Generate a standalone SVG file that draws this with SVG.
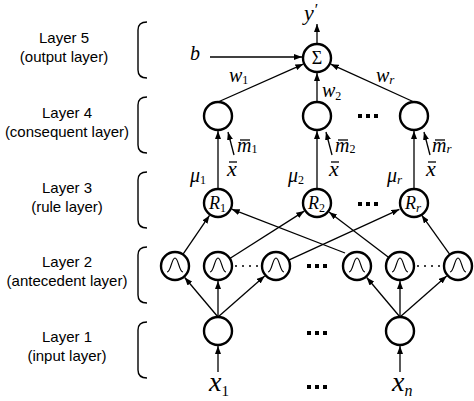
<svg xmlns="http://www.w3.org/2000/svg" width="474" height="401" viewBox="0 0 474 401">
<style>
.lbl{font-family:"Liberation Sans",Arial,sans-serif;font-size:15px;fill:#000;text-anchor:middle}
.m{font-family:"Liberation Serif","Times New Roman",serif;font-style:italic;fill:#000}
.s{font-style:normal}
.node{fill:#fff;stroke:#000;stroke-width:2.4}
.brace{fill:none;stroke:#000;stroke-width:1.4}
.c{stroke:#000;stroke-width:1.3;fill:none}
.g{fill:none;stroke:#000;stroke-width:1.2}
.dot{fill:#000}
</style>
<defs>
<marker id="ah" markerWidth="8" markerHeight="6" refX="8" refY="3" orient="auto" markerUnits="userSpaceOnUse">
<path d="M0,0 L8,3 L0,6 z" fill="#000"/>
</marker>
<path id="bell" d="M-8,6 C-4,6 -3.5,-8 0,-8 C3.5,-8 4,6 8,6"/>
</defs>

<g id="layer-labels">
<text class="lbl" x="64" y="43">Layer 5</text>
<text class="lbl" x="64" y="62">(output layer)</text>
<text class="lbl" x="67" y="118">Layer 4</text>
<text class="lbl" x="67" y="137">(consequent layer)</text>
<text class="lbl" x="67" y="193">Layer 3</text>
<text class="lbl" x="67" y="212">(rule layer)</text>
<text class="lbl" x="67" y="267">Layer 2</text>
<text class="lbl" x="67" y="286">(antecedent layer)</text>
<text class="lbl" x="67" y="342">Layer 1</text>
<text class="lbl" x="67" y="361">(input layer)</text>
</g>

<g id="braces">
<path class="brace" d="M147,22 Q138,22 138,30 L138,70 Q138,78 147,78"/>
<path class="brace" d="M147,97 Q138,97 138,105 L138,145 Q138,153 147,153"/>
<path class="brace" d="M147,172 Q138,172 138,180 L138,220 Q138,228 147,228"/>
<path class="brace" d="M147,247 Q138,247 138,255 L138,295 Q138,303 147,303"/>
<path class="brace" d="M147,322 Q138,322 138,330 L138,370 Q138,378 147,378"/>
</g>

<g id="connectors">
<line class="c" x1="218" y1="372" x2="218" y2="346" marker-end="url(#ah)"/>
<line class="c" x1="400" y1="372" x2="400" y2="346" marker-end="url(#ah)"/>
<line class="c" x1="218" y1="317" x2="184.7" y2="277.5" marker-end="url(#ah)"/>
<line class="c" x1="218" y1="317" x2="218" y2="281" marker-end="url(#ah)"/>
<line class="c" x1="218" y1="317" x2="264.7" y2="275.9" marker-end="url(#ah)"/>
<line class="c" x1="400" y1="317" x2="366.7" y2="277.5" marker-end="url(#ah)"/>
<line class="c" x1="400" y1="317" x2="400" y2="281" marker-end="url(#ah)"/>
<line class="c" x1="400" y1="317" x2="446.7" y2="275.9" marker-end="url(#ah)"/>
<line class="c" x1="182.9" y1="254.4" x2="209.5" y2="215.4" marker-end="url(#ah)"/>
<line class="c" x1="345" y1="253" x2="231.7" y2="209.2" marker-end="url(#ah)"/>
<line class="c" x1="229.8" y1="258.5" x2="304.3" y2="211.1" marker-end="url(#ah)"/>
<line class="c" x1="388.8" y1="257.5" x2="329" y2="212.1" marker-end="url(#ah)"/>
<line class="c" x1="288.7" y1="260.1" x2="399.4" y2="209.3" marker-end="url(#ah)"/>
<line class="c" x1="449.9" y1="254.6" x2="421.7" y2="215.2" marker-end="url(#ah)"/>
<line class="c" x1="218" y1="189" x2="218" y2="131" marker-end="url(#ah)"/>
<line class="c" x1="317" y1="189" x2="317" y2="131" marker-end="url(#ah)"/>
<line class="c" x1="414" y1="189" x2="414" y2="131" marker-end="url(#ah)"/>
<line class="c" x1="234" y1="155" x2="228" y2="132" marker-end="url(#ah)"/>
<line class="c" x1="332" y1="155" x2="326" y2="132" marker-end="url(#ah)"/>
<line class="c" x1="430" y1="155" x2="424" y2="132" marker-end="url(#ah)"/>
<line class="c" x1="218" y1="102" x2="303.3" y2="64.1" marker-end="url(#ah)"/>
<line class="c" x1="317" y1="102" x2="317" y2="73" marker-end="url(#ah)"/>
<line class="c" x1="414" y1="102" x2="330.7" y2="64.2" marker-end="url(#ah)"/>
<line class="c" x1="210" y1="57" x2="302" y2="57" marker-end="url(#ah)"/>
<line class="c" x1="317" y1="44" x2="317" y2="24" marker-end="url(#ah)"/>
<line class="c" x1="235" y1="266" x2="260" y2="266" stroke-width="2" stroke-dasharray="2,5"/>
<line class="c" x1="417" y1="266" x2="442" y2="266" stroke-width="2" stroke-dasharray="2,5"/>
</g>

<g id="sigma">
<circle class="node" cx="317" cy="58" r="14"/>
<text class="m s" x="317" y="64" font-size="18" text-anchor="middle">Σ</text>
</g>

<g id="consequent-1"><circle class="node" cx="218" cy="116" r="14"/></g>
<g id="consequent-2"><circle class="node" cx="317" cy="116" r="14"/></g>
<g id="consequent-r"><circle class="node" cx="414" cy="116" r="14"/></g>

<g id="rule-1"><circle class="node" cx="218" cy="203" r="14"/>
<text class="m" x="209" y="209" font-size="18">R<tspan class="s" font-size="12" dy="3">1</tspan></text></g>
<g id="rule-2"><circle class="node" cx="317" cy="203" r="14"/>
<text class="m" x="308" y="209" font-size="18">R<tspan class="s" font-size="12" dy="3">2</tspan></text></g>
<g id="rule-r"><circle class="node" cx="414" cy="203" r="14"/>
<text class="m" x="405" y="209" font-size="18">R<tspan font-size="13" dy="3">r</tspan></text></g>

<g id="mf-1"><circle class="node" cx="175" cy="266" r="14"/><use href="#bell" class="g" x="175" y="266"/></g>
<g id="mf-2"><circle class="node" cx="218" cy="266" r="14"/><use href="#bell" class="g" x="218" y="266"/></g>
<g id="mf-3"><circle class="node" cx="276" cy="266" r="14"/><use href="#bell" class="g" x="276" y="266"/></g>
<g id="mf-4"><circle class="node" cx="357" cy="266" r="14"/><use href="#bell" class="g" x="357" y="266"/></g>
<g id="mf-5"><circle class="node" cx="400" cy="266" r="14"/><use href="#bell" class="g" x="400" y="266"/></g>
<g id="mf-6"><circle class="node" cx="458" cy="266" r="14"/><use href="#bell" class="g" x="458" y="266"/></g>

<g id="input-1"><circle class="node" cx="218" cy="331" r="14"/></g>
<g id="input-n"><circle class="node" cx="400" cy="331" r="14"/></g>

<g id="ellipses">
<rect class="dot" x="358" y="114" width="4" height="4"/><rect class="dot" x="366" y="114" width="4" height="4"/><rect class="dot" x="374" y="114" width="4" height="4"/>
<rect class="dot" x="358" y="202" width="4" height="4"/><rect class="dot" x="366" y="202" width="4" height="4"/><rect class="dot" x="374" y="202" width="4" height="4"/>
<rect class="dot" x="307" y="264" width="4" height="4"/><rect class="dot" x="315" y="264" width="4" height="4"/><rect class="dot" x="323" y="264" width="4" height="4"/>
<rect class="dot" x="307" y="331" width="4" height="4"/><rect class="dot" x="315" y="331" width="4" height="4"/><rect class="dot" x="323" y="331" width="4" height="4"/>
<rect class="dot" x="307" y="385" width="4" height="4"/><rect class="dot" x="315" y="385" width="4" height="4"/><rect class="dot" x="323" y="385" width="4" height="4"/>
</g>

<g id="math-labels">
<text class="m" x="304" y="20" font-size="22">y<tspan font-size="16" dx="0" dy="-5">′</tspan></text>
<text class="m" x="190" y="60" font-size="20">b</text>
<text class="m" x="229" y="82" font-size="20">w<tspan class="s" font-size="12" dy="2">1</tspan></text>
<text class="m" x="322" y="97" font-size="20">w<tspan class="s" font-size="12" dy="3">2</tspan></text>
<text class="m" x="376" y="82" font-size="20">w<tspan font-size="13" dy="2">r</tspan></text>

<text class="m" x="237" y="152" font-size="20">m<tspan class="s" font-size="12" dy="1">1</tspan></text>
<line class="c" x1="240" y1="140" x2="250" y2="140" stroke-width="1.2"/>
<text class="m" x="335" y="152" font-size="20">m<tspan class="s" font-size="12" dy="1">2</tspan></text>
<line class="c" x1="338" y1="140" x2="348" y2="140" stroke-width="1.2"/>
<text class="m" x="432" y="152" font-size="20">m<tspan font-size="13" dy="1">r</tspan></text>
<line class="c" x1="435" y1="140" x2="445" y2="140" stroke-width="1.2"/>

<text class="m" x="227" y="176" font-size="22">x</text>
<line class="c" x1="229" y1="162" x2="237" y2="162" stroke-width="1.2"/>
<text class="m" x="329" y="176" font-size="22">x</text>
<line class="c" x1="331" y1="162" x2="339" y2="162" stroke-width="1.2"/>
<text class="m" x="426" y="176" font-size="22">x</text>
<line class="c" x1="428" y1="162" x2="436" y2="162" stroke-width="1.2"/>

<text class="m" x="190" y="182" font-size="20">μ<tspan class="s" font-size="12" dy="2">1</tspan></text>
<text class="m" x="288" y="182" font-size="20">μ<tspan class="s" font-size="12" dy="2">2</tspan></text>
<text class="m" x="387" y="182" font-size="20">μ<tspan font-size="13" dy="2">r</tspan></text>

<text class="m" x="209" y="391" font-size="28">x<tspan class="s" font-size="15" dy="5">1</tspan></text>
<text class="m" x="392" y="391" font-size="28">x<tspan font-size="16" dy="5">n</tspan></text>
</g>
</svg>
